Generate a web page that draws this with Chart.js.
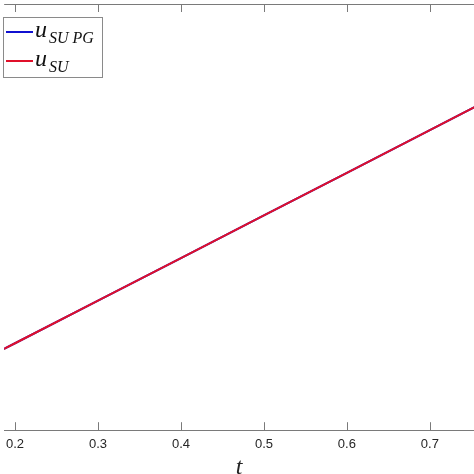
<!DOCTYPE html>
<html>
<head>
<meta charset="utf-8">
<script src="https://cdn.jsdelivr.net/npm/chart.js@4.4.0/dist/chart.umd.min.js"></script>
<style>
  html, body { margin: 0; padding: 0; background: #fff; }
  #wrap { width: 474px; height: 474px; }
</style>
</head>
<body>
<div id="wrap"><canvas id="uChart" width="474" height="474"></canvas></div>
<script>
// values
const tValues = [0.0, 0.1, 0.2, 0.3, 0.4, 0.5, 0.6, 0.7, 0.8, 0.9, 1.0];
const uSUPG  = [0.004, 0.104, 0.204, 0.304, 0.404, 0.504, 0.604, 0.704, 0.804, 0.904, 1.004];
const uSU    = [0.004, 0.104, 0.204, 0.304, 0.404, 0.504, 0.604, 0.704, 0.804, 0.904, 1.004];
const xTicks = [0.2, 0.3, 0.4, 0.5, 0.6, 0.7];
const xRange = [0.1869, 0.7532];   // the figure is cropped at both sides
const yRange = [0, 1];
const legendItems = [
    { base: 'u', sub: 'SU PG', color: '#1010d0' },
    { base: 'u', sub: 'SU',    color: '#e0102a' }
];

const axisGray = '#7a7a7a';

// MATLAB-style box with inward ticks + latex-ish legend
const matlabBox = {
    id: 'matlabBox',
    afterDraw(chart) {
        const { ctx, chartArea: a, scales: { x } } = chart;
        ctx.save();
        ctx.strokeStyle = axisGray;
        ctx.lineWidth = 1;
        ctx.beginPath();
        ctx.moveTo(a.left, a.top + 0.5);
        ctx.lineTo(a.right, a.top + 0.5);
        xTicks.forEach(v => {
            const px = Math.round(x.getPixelForValue(v)) + 0.5;
            ctx.moveTo(px, a.bottom);
            ctx.lineTo(px, a.bottom - 8);
            ctx.moveTo(px, a.top);
            ctx.lineTo(px, a.top + 8);
        });
        ctx.stroke();

        // legend
        const bx = 3.5, by = 17.5, bw = 99, bh = 60;
        ctx.fillStyle = '#fff';
        ctx.fillRect(bx, by, bw, bh);
        ctx.strokeStyle = '#8a8a8a';
        ctx.strokeRect(bx, by, bw, bh);
        legendItems.forEach((it, i) => {
            const ly = 32 + i * 29;
            ctx.strokeStyle = it.color;
            ctx.lineWidth = 2;
            ctx.beginPath();
            ctx.moveTo(6, ly);
            ctx.lineTo(33, ly);
            ctx.stroke();
            ctx.fillStyle = '#111';
            ctx.textBaseline = 'alphabetic';
            ctx.font = 'italic 24px "Liberation Serif"';
            ctx.fillText(it.base, 35, ly + 5);
            ctx.font = 'italic 16px "Liberation Serif"';
            ctx.fillText(it.sub, 49, ly + 11);
        });
        ctx.restore();
    }
};

const ctx = document.getElementById('uChart');
new Chart(ctx, {
    type: 'line',
    data: {
        datasets: [
            { label: 'u_SUPG', data: tValues.map((t, i) => ({ x: t, y: uSUPG[i] })),
              borderColor: legendItems[0].color, borderWidth: 2, pointRadius: 0, fill: false, order: 1 },
            { label: 'u_SU', data: tValues.map((t, i) => ({ x: t, y: uSU[i] })),
              borderColor: legendItems[1].color, borderWidth: 2, pointRadius: 0, fill: false, order: 0 }
        ]
    },
    options: {
        responsive: false,
        animation: false,
        layout: { padding: { top: 4, left: 0, right: 0, bottom: -3 } },
        plugins: { legend: { display: false }, tooltip: { enabled: false } },
        scales: {
            x: {
                type: 'linear',
                min: xRange[0], max: xRange[1],
                afterBuildTicks: s => { s.ticks = xTicks.map(v => ({ value: v })); },
                grid: { display: false, drawTicks: false },
                border: { display: true, color: axisGray, width: 1 },
                ticks: {
                    autoSkip: false, maxRotation: 0, padding: 6,
                    color: '#262626',
                    font: { family: '"Liberation Sans", Arial, sans-serif', size: 13 },
                    callback: v => v.toFixed(1)
                },
                title: {
                    display: true, text: 't', color: '#262626',
                    font: { family: '"Liberation Serif", serif', style: 'italic', size: 24, lineHeight: 0.8 },
                    padding: { top: 0, bottom: 0 }
                }
            },
            y: {
                display: false,
                min: yRange[0], max: yRange[1]
            }
        }
    },
    plugins: [matlabBox]
});
</script>
</body>
</html>
